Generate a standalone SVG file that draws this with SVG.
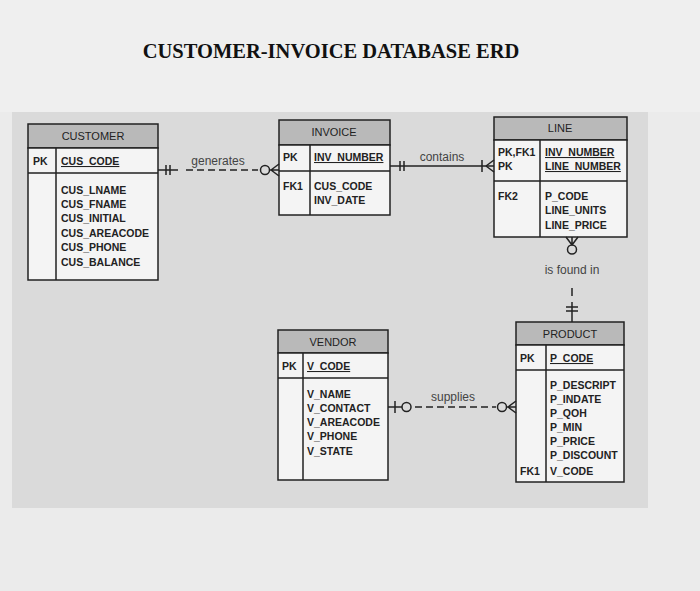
<svg xmlns="http://www.w3.org/2000/svg" width="700" height="591" viewBox="0 0 700 591">
<style>
.ent{fill:#f4f4f4;stroke:#222;stroke-width:1.5}
.hdr{fill:#b9b9b9;stroke:#222;stroke-width:1.5}
.ln{stroke:#222;stroke-width:1.5;fill:none}
.t{font-family:"Liberation Sans",Arial,sans-serif;font-size:10.5px;font-weight:bold;fill:#222}
.h{font-family:"Liberation Sans",Arial,sans-serif;font-size:11px;fill:#222}
.lbl{font-family:"Liberation Sans",Arial,sans-serif;font-size:12px;fill:#444}
.u{text-decoration:underline}
</style>
<rect width="700" height="591" fill="#ebebeb"/>
<rect x="0" y="0" width="700" height="112" fill="#efefef"/>
<rect x="12" y="112" width="636" height="396" fill="#dadada"/>
<text x="331" y="58" text-anchor="middle" font-family="Liberation Serif,serif" font-size="20.5" font-weight="bold" fill="#111">CUSTOMER-INVOICE DATABASE ERD</text>

<g id="customer">
<rect class="hdr" x="28" y="124" width="130" height="24"/>
<rect class="ent" x="28" y="148" width="130" height="132"/>
<line class="ln" x1="28" y1="173" x2="158" y2="173"/><line class="ln" x1="56" y1="148" x2="56" y2="280"/>
<text class="h" x="93" y="140" text-anchor="middle">CUSTOMER</text>
<text class="t" x="33" y="165">PK</text><text class="t u" x="61" y="165">CUS_CODE</text>
<text class="t" x="61" y="194">CUS_LNAME</text><text class="t" x="61" y="208">CUS_FNAME</text><text class="t" x="61" y="222">CUS_INITIAL</text><text class="t" x="61" y="237">CUS_AREACODE</text><text class="t" x="61" y="251">CUS_PHONE</text><text class="t" x="61" y="266">CUS_BALANCE</text>
</g>
<g id="invoice">
<rect class="hdr" x="279" y="120" width="111" height="25"/>
<rect class="ent" x="279" y="145" width="111" height="70"/>
<line class="ln" x1="279" y1="171" x2="390" y2="171"/><line class="ln" x1="310" y1="145" x2="310" y2="215"/>
<text class="h" x="334" y="136" text-anchor="middle">INVOICE</text>
<text class="t" x="283" y="161">PK</text><text class="t u" x="314" y="161">INV_NUMBER</text>
<text class="t" x="283" y="190">FK1</text><text class="t" x="314" y="190">CUS_CODE</text><text class="t" x="314" y="204">INV_DATE</text>
</g>
<g id="line">
<rect class="hdr" x="494" y="117" width="133" height="23"/>
<rect class="ent" x="494" y="140" width="133" height="97"/>
<line class="ln" x1="494" y1="181" x2="627" y2="181"/><line class="ln" x1="540" y1="140" x2="540" y2="237"/>
<text class="h" x="560" y="132" text-anchor="middle">LINE</text>
<text class="t" x="498" y="156">PK,FK1</text><text class="t" x="498" y="170">PK</text>
<text class="t u" x="545" y="156">INV_NUMBER</text><text class="t u" x="545" y="170">LINE_NUMBER</text>
<text class="t" x="498" y="200">FK2</text><text class="t" x="545" y="200">P_CODE</text><text class="t" x="545" y="214">LINE_UNITS</text><text class="t" x="545" y="229">LINE_PRICE</text>
</g>
<g id="vendor">
<rect class="hdr" x="278" y="330" width="110" height="23"/>
<rect class="ent" x="278" y="353" width="110" height="127"/>
<line class="ln" x1="278" y1="378" x2="388" y2="378"/><line class="ln" x1="303" y1="353" x2="303" y2="480"/>
<text class="h" x="333" y="346" text-anchor="middle">VENDOR</text>
<text class="t" x="282" y="370">PK</text><text class="t u" x="307" y="370">V_CODE</text>
<text class="t" x="307" y="398">V_NAME</text><text class="t" x="307" y="412">V_CONTACT</text><text class="t" x="307" y="426">V_AREACODE</text><text class="t" x="307" y="440">V_PHONE</text><text class="t" x="307" y="455">V_STATE</text>
</g>
<g id="product">
<rect class="hdr" x="516" y="322" width="108" height="23"/>
<rect class="ent" x="516" y="345" width="108" height="137"/>
<line class="ln" x1="516" y1="370" x2="624" y2="370"/><line class="ln" x1="546" y1="345" x2="546" y2="482"/>
<text class="h" x="570" y="338" text-anchor="middle">PRODUCT</text>
<text class="t" x="520" y="362">PK</text><text class="t u" x="550" y="362">P_CODE</text>
<text class="t" x="550" y="389">P_DESCRIPT</text><text class="t" x="550" y="403">P_INDATE</text><text class="t" x="550" y="417">P_QOH</text><text class="t" x="550" y="431">P_MIN</text><text class="t" x="550" y="445">P_PRICE</text><text class="t" x="550" y="459">P_DISCOUNT</text>
<text class="t" x="520" y="475">FK1</text><text class="t" x="550" y="475">V_CODE</text>
</g>
<g id="connectors">
<line class="ln" x1="158" y1="170" x2="178" y2="170"/>
<line class="ln" x1="166" y1="165" x2="166" y2="175"/><line class="ln" x1="170" y1="165" x2="170" y2="175"/>
<line class="ln" x1="186" y1="170" x2="258" y2="170" stroke-dasharray="7,4"/>
<circle class="ln" cx="265" cy="170" r="4.5"/>
<path class="ln" d="M269.5 170H279M271 170L279 164M271 170L279 176"/>
<text class="lbl" x="218" y="165" text-anchor="middle">generates</text>
<line class="ln" x1="390" y1="166" x2="494" y2="166"/>
<line class="ln" x1="400" y1="161" x2="400" y2="171"/><line class="ln" x1="404" y1="161" x2="404" y2="171"/>
<line class="ln" x1="482" y1="160" x2="482" y2="172"/>
<path class="ln" d="M486 166L494 160M486 166L494 172"/>
<text class="lbl" x="442" y="161" text-anchor="middle">contains</text>
<path class="ln" d="M572 237V245M566 237L572 245M578 237L572 245"/>
<circle class="ln" cx="572" cy="249.5" r="4.5"/>
<text class="lbl" x="572" y="274" text-anchor="middle">is found in</text>
<line class="ln" x1="572" y1="288" x2="572" y2="296"/>
<line class="ln" x1="572" y1="302" x2="572" y2="322"/>
<line class="ln" x1="566" y1="307" x2="578" y2="307"/><line class="ln" x1="566" y1="311" x2="578" y2="311"/>
<line class="ln" x1="388" y1="407" x2="402" y2="407"/>
<line class="ln" x1="395" y1="401" x2="395" y2="413"/>
<circle class="ln" cx="406.5" cy="407" r="4.5"/>
<line class="ln" x1="415" y1="407" x2="496" y2="407" stroke-dasharray="7,4"/>
<circle class="ln" cx="502" cy="407" r="4.5"/>
<path class="ln" d="M506.5 407H516M508 407L516 401M508 407L516 413"/>
<text class="lbl" x="453" y="401" text-anchor="middle">supplies</text>
</g>
</svg>
